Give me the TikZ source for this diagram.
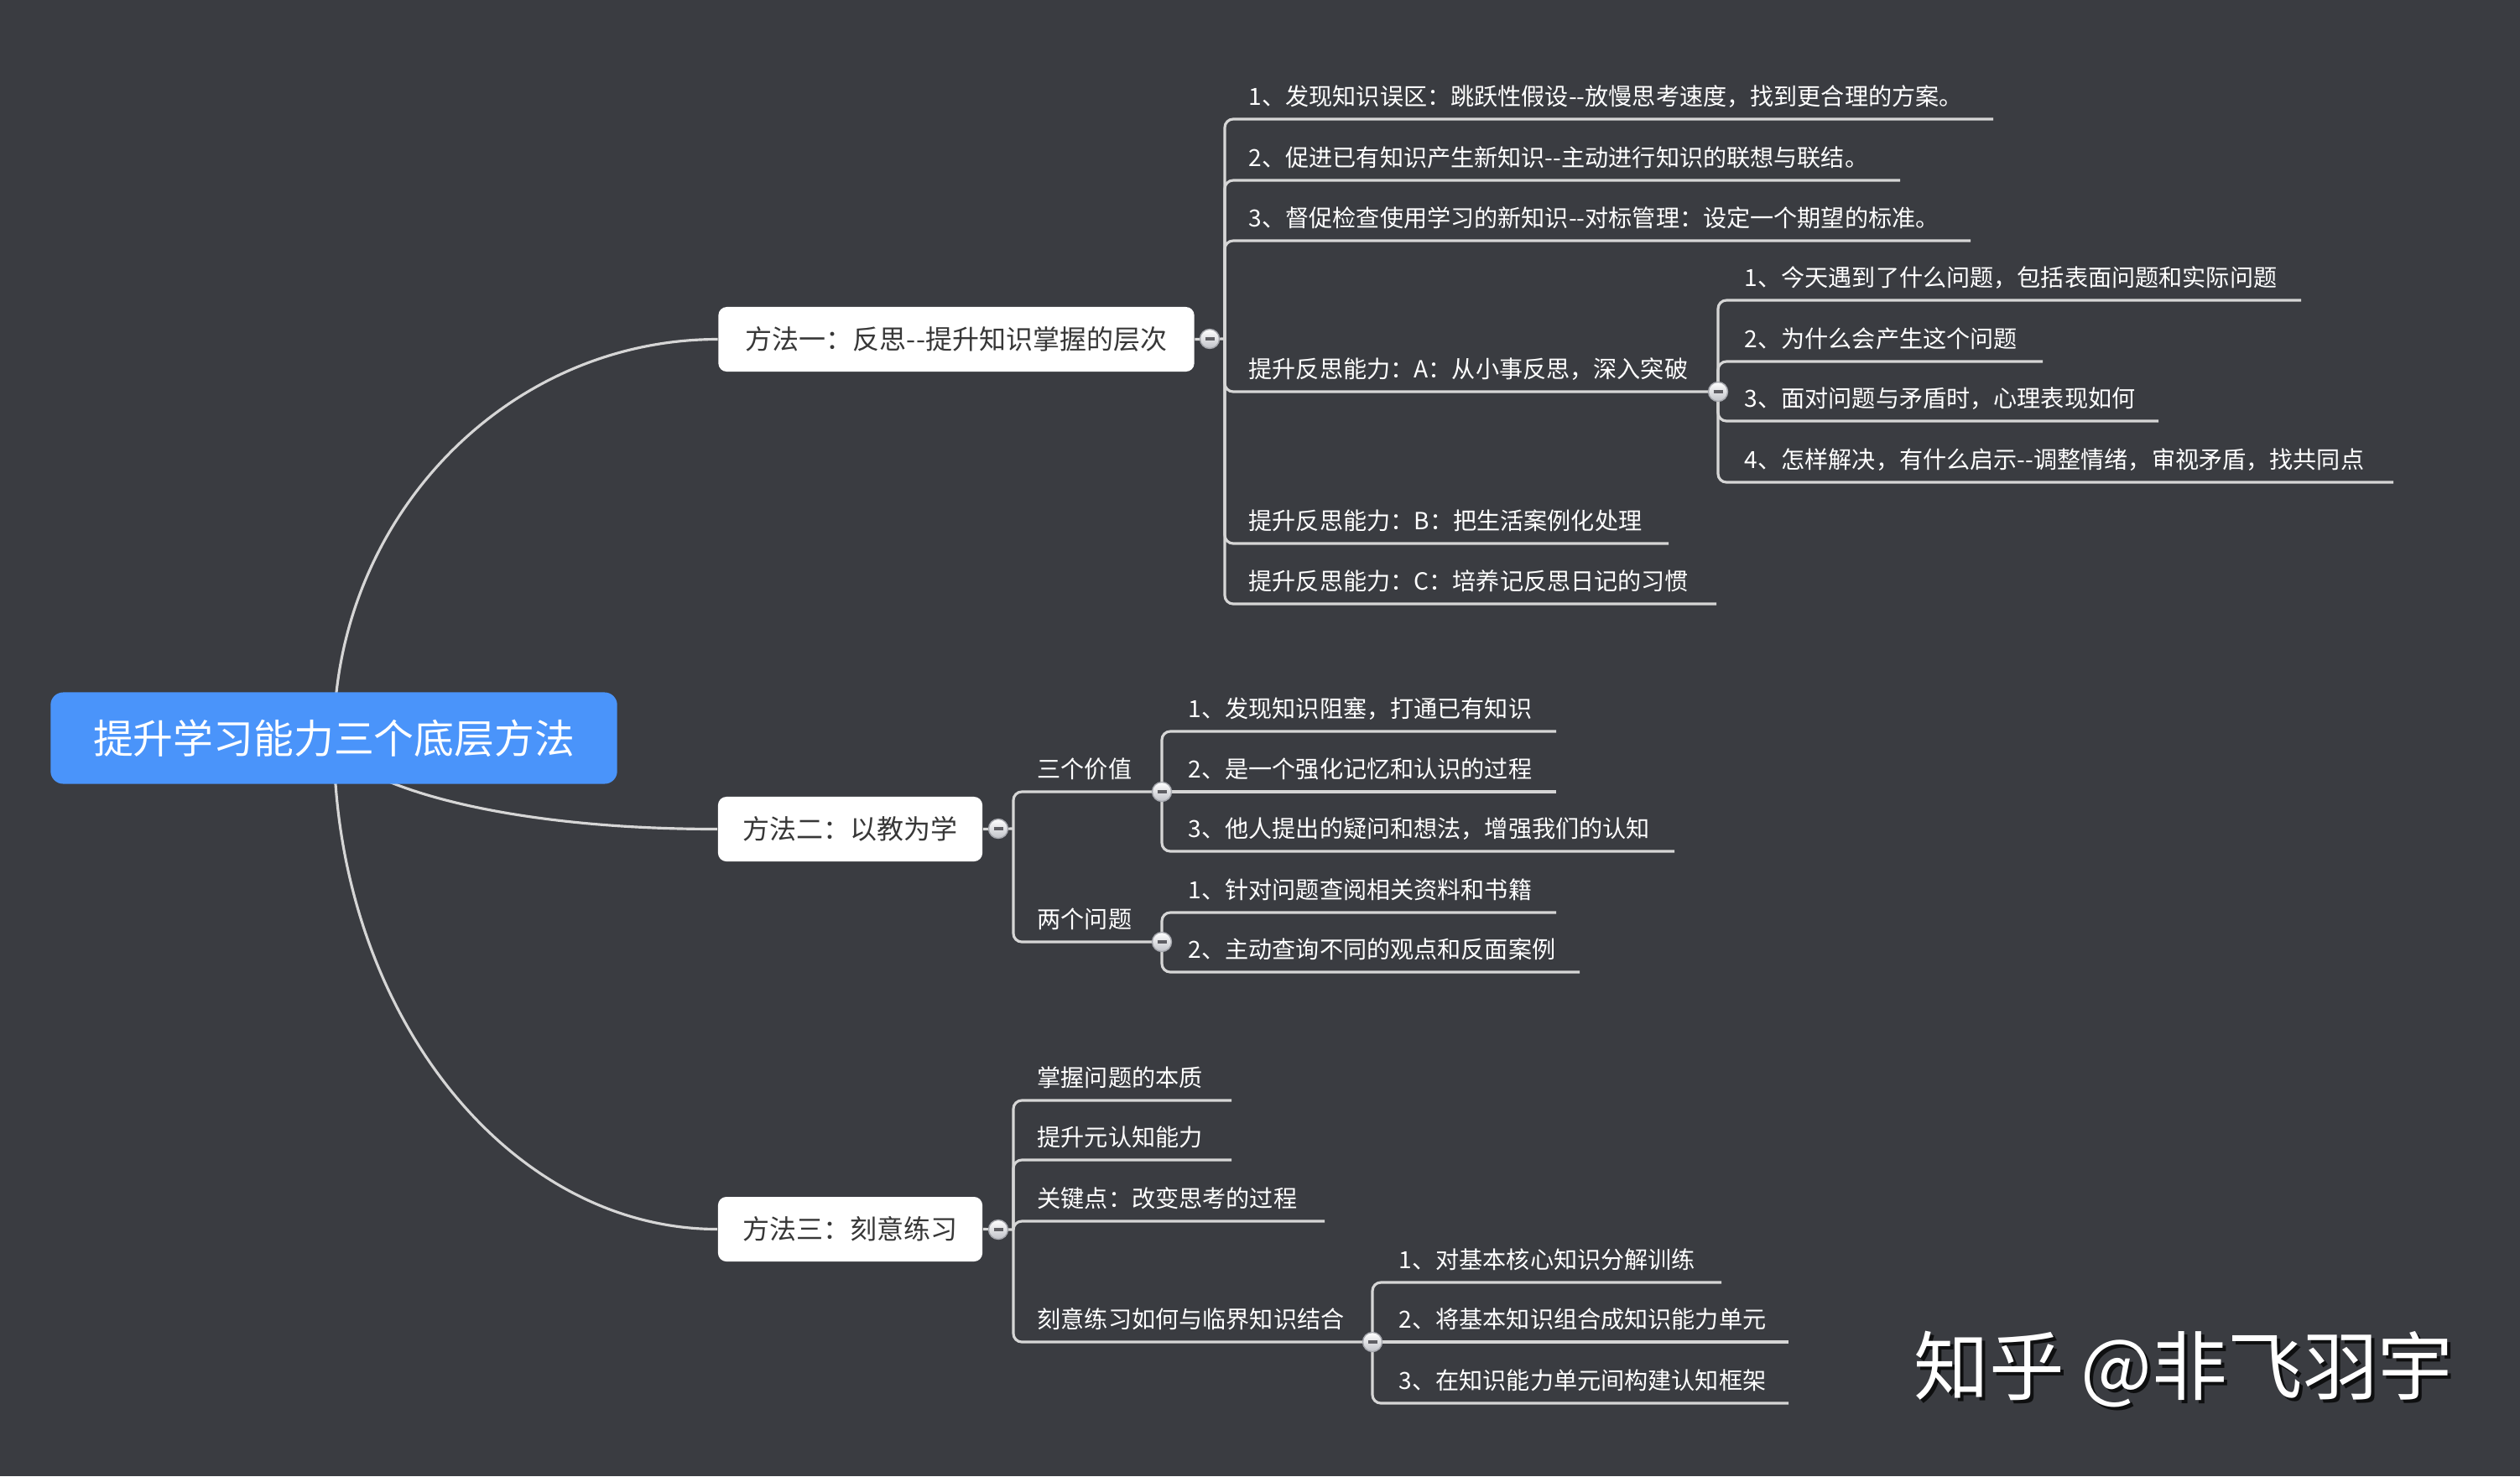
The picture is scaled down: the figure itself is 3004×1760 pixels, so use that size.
\documentclass[tikz,border=0pt]{standalone}
\usepackage{fontspec}
\setmainfont{Noto Sans CJK SC}
\pgfdeclarelayer{back}
\pgfsetlayers{back,main}
\definecolor{bg}{RGB}{58,60,65}
\definecolor{lnc}{RGB}{214,214,214}
\definecolor{rootblue}{RGB}{74,148,250}
\definecolor{boxtext}{RGB}{55,55,55}
\definecolor{circb}{RGB}{165,167,173}
\definecolor{circbot}{RGB}{192,194,200}
\definecolor{minusc}{RGB}{95,95,100}
\tikzset{
  ln/.style={draw=lnc, line width=0.9pt},
  rc/.style={rounded corners=0.1cm},
  item/.style={anchor=base west, inner sep=0pt, text=white, font=\fontsize{8pt}{10pt}\selectfont},
  mbox/.style={fill=white, rounded corners=0.1cm, minimum height=0.77cm, text=boxtext,
    font=\fontsize{9.1pt}{11pt}\selectfont, inner sep=0pt},
  rootbox/.style={fill=rootblue, rounded corners=0.15cm, minimum width=6.75cm, minimum height=1.09cm,
    text=white, font=\fontsize{13.6pt}{16pt}\selectfont, inner sep=0pt},
  circ/.style={circle, minimum size=0.23cm, inner sep=0pt, draw=circb, line width=0.4pt,
    top color=white, bottom color=circbot,
    path picture={\draw[minusc, line width=1.1pt]
      ([xshift=-0.055cm]path picture bounding box.center) -- ([xshift=0.055cm]path picture bounding box.center);}},
  wmark/.style={font=\fontsize{25.5pt}{30pt}\selectfont, inner sep=0pt},
}
\begin{document}
\begin{tikzpicture}[x=0.01cm, y=-0.01cm]
\begin{pgfonlayer}{back}
\fill[bg] (0,0) rectangle (3004,1760);
\end{pgfonlayer}
\useasboundingbox (0,0) rectangle (3004,1760);

% main nodes
\node[rootbox] (root) at (398,880) {提升学习能力三个底层方法};
\node[mbox, minimum width=5.67cm] (m1) at (1140,404.5) {方法一：反思-{}-提升知识掌握的层次};
\node[mbox, minimum width=3.15cm] (m2) at (1013.5,988.5) {方法二：以教为学};
\node[mbox, minimum width=3.15cm] (m3) at (1013.5,1465.5) {方法三：刻意练习};

% curves from root, drawn behind the root box
\begin{pgfonlayer}{back}
\draw[ln] (root.center) .. controls +(0,-262) and +(-252,0) .. (m1.west);
\draw[ln] (root.center) .. controls +(0,40) and +(-300,0) .. (m2.west);
\draw[ln] (root.center) .. controls +(0,322) and +(-252,0) .. (m3.west);
\end{pgfonlayer}

% ---------- method 1 ----------
\coordinate (v1) at (1460,404);
\coordinate (u11) at (2376,142);
\coordinate (u12) at (2265,215);
\coordinate (u13) at (2349,287);
\coordinate (uB) at (1989,648);
\coordinate (uC) at (2046,720);
\coordinate (ua1) at (2743,358);
\coordinate (ua2) at (2435,431);
\coordinate (ua3) at (2573,502);
\coordinate (ua4) at (2853,575);
\coordinate (cApos) at (2048,467);

\draw[ln] (m1.east) -- (v1);
\draw[ln, rc] (v1) |- (u11);
\draw[ln, rc] (v1) |- (u12);
\draw[ln, rc] (v1) |- (u13);
\draw[ln, rc] (v1) |- (cApos);
\draw[ln, rc] (v1) |- (uB);
\draw[ln, rc] (v1) |- (uC);
\draw[ln, rc] (cApos) |- (ua1);
\draw[ln, rc] (cApos) |- (ua2);
\draw[ln, rc] (cApos) |- (ua3);
\draw[ln, rc] (cApos) |- (ua4);

\node[item] (t11) at (1488,125) {1、发现知识误区：跳跃性假设-{}-放慢思考速度，找到更合理的方案。};
\node[item] (t12) at (1488,198) {2、促进已有知识产生新知识-{}-主动进行知识的联想与联结。};
\node[item] (t13) at (1488,270) {3、督促检查使用学习的新知识-{}-对标管理：设定一个期望的标准。};
\node[item] (tA) at (1488,450) {提升反思能力：A：从小事反思，深入突破};
\node[item] (tB) at (1488,631) {提升反思能力：B：把生活案例化处理};
\node[item] (tC) at (1488,703) {提升反思能力：C：培养记反思日记的习惯};
\node[item] (ta1) at (2079,341) {1、今天遇到了什么问题，包括表面问题和实际问题};
\node[item] (ta2) at (2079,414) {2、为什么会产生这个问题};
\node[item] (ta3) at (2079,485) {3、面对问题与矛盾时，心理表现如何};
\node[item] (ta4) at (2079,558) {4、怎样解决，有什么启示-{}-调整情绪，审视矛盾，找共同点};

\node[circ] (c1) at (1442,404) {};
\node[circ] (cA) at (cApos) {};

% ---------- method 2 ----------
\coordinate (v2) at (1208,988);
\coordinate (c21pos) at (1385,944);
\coordinate (c22pos) at (1385,1123);
\coordinate (u211) at (1855,872);
\coordinate (u212) at (1855,944);
\coordinate (u213) at (1996,1015);
\coordinate (u221) at (1855,1088);
\coordinate (u222) at (1883,1159);

\draw[ln] (m2.east) -- (v2);
\draw[ln, rc] (v2) |- (c21pos);
\draw[ln, rc] (v2) |- (c22pos);
\draw[ln, rc] (c21pos) |- (u211);
\draw[ln] (c21pos) -- (u212);
\draw[ln, rc] (c21pos) |- (u213);
\draw[ln, rc] (c22pos) |- (u221);
\draw[ln, rc] (c22pos) |- (u222);

\node[item] (t21) at (1236,927) {三个价值};
\node[item] (t22) at (1236,1106) {两个问题};
\node[item] (t211) at (1416,855) {1、发现知识阻塞，打通已有知识};
\node[item] (t212) at (1416,927) {2、是一个强化记忆和认识的过程};
\node[item] (t213) at (1416,998) {3、他人提出的疑问和想法，增强我们的认知};
\node[item] (t221) at (1416,1071) {1、针对问题查阅相关资料和书籍};
\node[item] (t222) at (1416,1142) {2、主动查询不同的观点和反面案例};

\node[circ] (c2) at (1190,988) {};
\node[circ] (c21) at (c21pos) {};
\node[circ] (c22) at (c22pos) {};

% ---------- method 3 ----------
\coordinate (v3) at (1208,1466);
\coordinate (u31) at (1468,1312);
\coordinate (u32) at (1468,1383);
\coordinate (u33) at (1579,1456);
\coordinate (c34pos) at (1636,1600);
\coordinate (u341) at (2052,1529);
\coordinate (u342) at (2132,1600);
\coordinate (u343) at (2132,1673);

\draw[ln] (m3.east) -- (v3);
\draw[ln, rc] (v3) |- (u31);
\draw[ln, rc] (v3) |- (u32);
\draw[ln, rc] (v3) |- (u33);
\draw[ln, rc] (v3) |- (c34pos);
\draw[ln, rc] (c34pos) |- (u341);
\draw[ln] (c34pos) -- (u342);
\draw[ln, rc] (c34pos) |- (u343);

\node[item] (t31) at (1236,1295) {掌握问题的本质};
\node[item] (t32) at (1236,1366) {提升元认知能力};
\node[item] (t33) at (1236,1439) {关键点：改变思考的过程};
\node[item] (t34) at (1236,1583) {刻意练习如何与临界知识结合};
\node[item] (t341) at (1667,1512) {1、对基本核心知识分解训练};
\node[item] (t342) at (1667,1583) {2、将基本知识组合成知识能力单元};
\node[item] (t343) at (1667,1656) {3、在知识能力单元间构建认知框架};

\node[circ] (c3) at (1190,1466) {};
\node[circ] (c34) at (c34pos) {};

% ---------- watermark ----------
\node[wmark, text=black, text opacity=0.75] (wms) at (2607,1637) {知乎 @非飞羽宇};
\node[wmark, text=white] (wm) at (2603,1633) {知乎 @非飞羽宇};
\end{tikzpicture}
\end{document}
